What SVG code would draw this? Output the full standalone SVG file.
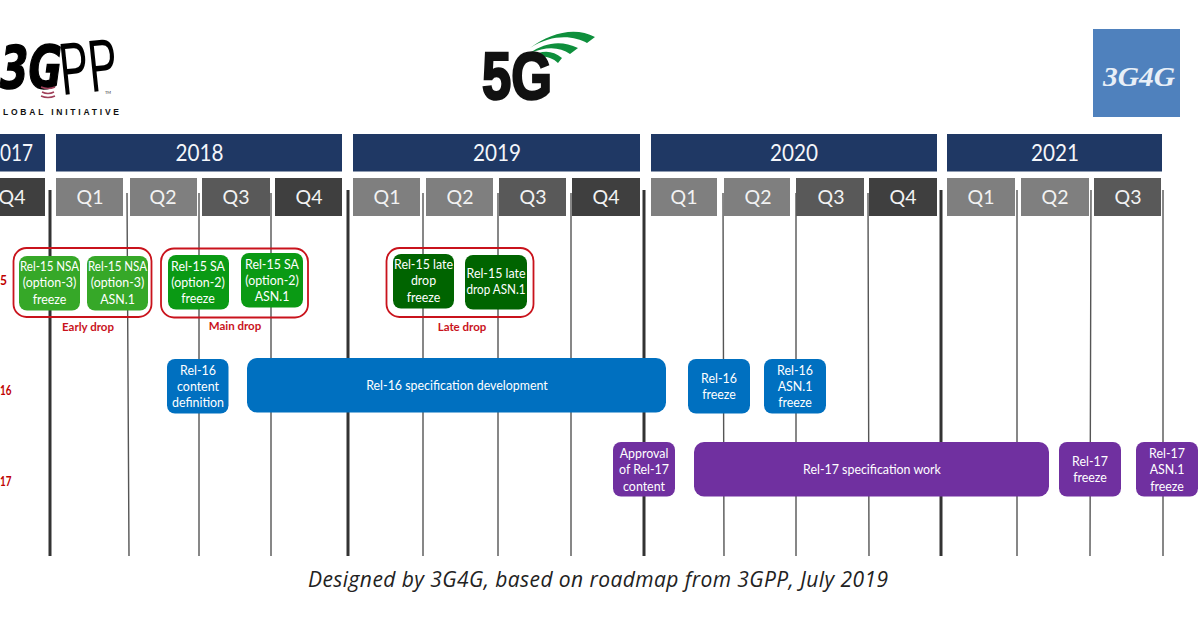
<svg xmlns="http://www.w3.org/2000/svg" width="1200" height="630" viewBox="0 0 1200 630">
<style>
text{font-family:Lato,"Open Sans","Liberation Sans",sans-serif;text-anchor:middle;fill:#fff}
.year{fill:#1f3864}
.yt{font-size:23px;fill:#f4f6fa}
.qt{font-size:19.5px;fill:#f2f2f2}
.q1,.q2{fill:#7f7f7f}.q3{fill:#595959}.q4{fill:#3f3f3f}
.n{font-size:12.4px}
.frame{fill:none;stroke:#c9131c;stroke-width:1.8}
.dl{font-size:11.5px;font-weight:700;fill:#c9131c}
.rl{font-size:14px;font-weight:700;fill:#c00000;text-anchor:start}
.g1{fill:#36a828}.g2{fill:#0a9a14}.g3{fill:#006400}.b{fill:#0070c0}.p{fill:#7030a0}
.arc{fill:#0e8f3c}
.thick{stroke:#333;stroke-width:3}
.thin{stroke:#555;stroke-width:1.4}
</style>

<g id="logo-3gpp">
<text x="31" y="88" style="font-family:'DejaVu Sans',sans-serif;font-size:58px;font-weight:700;font-style:italic;fill:#000;stroke:#000;stroke-width:1.5" textLength="62" lengthAdjust="spacingAndGlyphs">3G</text>
<text x="91" y="92" transform="rotate(-6 91 92)" style="font-family:'Liberation Sans',sans-serif;font-size:74px;fill:#000" textLength="58" lengthAdjust="spacingAndGlyphs">PP</text>
<path d="M41 87q7 3 14 0M42 92q6 3 12 0M41 96q7 3 14 0" fill="none" stroke="#a0405a" stroke-width="1.4"/>
<text x="108" y="94" style="font-size:4px;fill:#333">TM</text>
<text x="61" y="115" style="font-family:'Liberation Sans',sans-serif;font-size:8.5px;font-weight:700;fill:#111" textLength="116">LOBAL INITIATIVE</text>
</g>

<g id="logo-5g">
<path class="arc" d="M530 48C550 33 575 26 595 37L587 43C575 36 553 33 530 48Z"/>
<path class="arc" d="M530 53C545 42 562 40 578 48L570 54C560 47 547 46 530 53Z"/>
<path class="arc" d="M530 57C542 50 552 50 562 58L558 63C552 57 543 55 530 57Z"/>
<text x="517" y="99" style="font-family:'Liberation Sans',sans-serif;font-size:66px;font-weight:700;fill:#111;stroke:#111;stroke-width:2.500" textLength="70" lengthAdjust="spacingAndGlyphs">5G</text>
</g>

<g id="logo-3g4g">
<rect x="1093" y="29" width="87" height="88" fill="#4f81bd"/>
<text x="1139" y="86" style="font-family:'Liberation Serif',serif;font-size:27px;font-style:italic;font-weight:700;fill:#e8eff7" textLength="72" lengthAdjust="spacingAndGlyphs">3G4G</text>
</g>

<g id="connectors">
<path class="thick" d="M50 190V556M348 190V556M644 190V556M941 190V556"/>
<path class="thin" d="M127 193L129 556M199 193V556M271 193V556M423 193V556M498 193V556M571 193V556M723 193L724 556M796 193V556M868 193L869 556M1017 190V556M1091 190L1090 556M1163 190V556"/>
</g>

<g id="years">
<rect class="year" x="0" y="134" width="45" height="37.500"/><text class="yt" x="16.500" y="161" textLength="33" lengthAdjust="spacingAndGlyphs">017</text>
<rect class="year" x="56" y="134" width="286" height="37.500"/><text class="yt" x="199.500" y="161" textLength="48" lengthAdjust="spacingAndGlyphs">2018</text>
<rect class="year" x="353" y="134" width="287" height="37.500"/><text class="yt" x="497" y="161" textLength="48" lengthAdjust="spacingAndGlyphs">2019</text>
<rect class="year" x="651" y="134" width="286" height="37.500"/><text class="yt" x="794" y="161" textLength="48" lengthAdjust="spacingAndGlyphs">2020</text>
<rect class="year" x="947" y="134" width="215" height="37.500"/><text class="yt" x="1055" y="161" textLength="48" lengthAdjust="spacingAndGlyphs">2021</text>
</g>

<g id="quarters">
<rect class="q4" x="0" y="178" width="45" height="38"/><text class="qt" x="12" y="204">Q4</text>
<rect class="q1" x="56" y="178" width="67" height="38"/><text class="qt" x="90" y="204">Q1</text>
<rect class="q2" x="130" y="178" width="67" height="38"/><text class="qt" x="163" y="204">Q2</text>
<rect class="q3" x="202" y="178" width="68" height="38"/><text class="qt" x="236" y="204">Q3</text>
<rect class="q4" x="275" y="178" width="67" height="38"/><text class="qt" x="309" y="204">Q4</text>
<rect class="q1" x="353" y="178" width="67" height="38"/><text class="qt" x="387" y="204">Q1</text>
<rect class="q2" x="426" y="178" width="67" height="38"/><text class="qt" x="460" y="204">Q2</text>
<rect class="q3" x="499" y="178" width="67" height="38"/><text class="qt" x="533" y="204">Q3</text>
<rect class="q4" x="572" y="178" width="68" height="38"/><text class="qt" x="606" y="204">Q4</text>
<rect class="q1" x="651" y="178" width="66" height="38"/><text class="qt" x="684" y="204">Q1</text>
<rect class="q2" x="724" y="178" width="66" height="38"/><text class="qt" x="758" y="204">Q2</text>
<rect class="q3" x="796" y="178" width="68" height="38"/><text class="qt" x="831" y="204">Q3</text>
<rect class="q4" x="869" y="178" width="68" height="38"/><text class="qt" x="903" y="204">Q4</text>
<rect class="q1" x="947" y="178" width="68" height="38"/><text class="qt" x="981" y="204">Q1</text>
<rect class="q2" x="1021" y="178" width="68" height="38"/><text class="qt" x="1055" y="204">Q2</text>
<rect class="q3" x="1094" y="178" width="67" height="38"/><text class="qt" x="1128" y="204">Q3</text>
</g>

<g id="release-labels">
<text class="rl" x="0" y="285" textLength="7" lengthAdjust="spacingAndGlyphs">5</text>
<text class="rl" x="0" y="395" textLength="11.500" lengthAdjust="spacingAndGlyphs">16</text>
<text class="rl" x="0" y="486" textLength="11.500" lengthAdjust="spacingAndGlyphs">17</text>
</g>

<g id="drop-early"><rect class="frame" x="13.500" y="248" width="138" height="69" rx="13"/><text class="dl" x="88" y="331">Early drop</text></g>
<g id="drop-main"><rect class="frame" x="161" y="248.500" width="147" height="69" rx="13"/><text class="dl" x="235" y="330">Main drop</text></g>
<g id="drop-late"><rect class="frame" x="386.500" y="248" width="147" height="69" rx="13"/><text class="dl" x="462" y="331">Late drop</text></g>

<g id="r15-nsa-freeze"><rect class="g1" x="19" y="256" width="61" height="54.500" rx="8"/><text class="n" x="49.500" y="271" textLength="59" lengthAdjust="spacingAndGlyphs">Rel-15 NSA</text><text class="n" x="49.500" y="287">(option-3)</text><text class="n" x="49.500" y="304">freeze</text></g>
<g id="r15-nsa-asn1"><rect class="g1" x="87" y="256" width="61" height="54.500" rx="8"/><text class="n" x="117.500" y="271" textLength="59" lengthAdjust="spacingAndGlyphs">Rel-15 NSA</text><text class="n" x="117.500" y="287">(option-3)</text><text class="n" x="117.500" y="304">ASN.1</text></g>
<g id="r15-sa-freeze"><rect class="g2" x="168" y="255" width="61" height="54.500" rx="8"/><text class="n" x="198" y="271">Rel-15 SA</text><text class="n" x="198" y="287">(option-2)</text><text class="n" x="198" y="303">freeze</text></g>
<g id="r15-sa-asn1"><rect class="g2" x="241" y="253" width="62" height="54.500" rx="8"/><text class="n" x="272" y="269">Rel-15 SA</text><text class="n" x="272" y="285">(option-2)</text><text class="n" x="272" y="301">ASN.1</text></g>
<g id="r15-late-freeze"><rect class="g3" x="393" y="254" width="61" height="54.500" rx="8"/><text class="n" x="423.500" y="269">Rel-15 late</text><text class="n" x="423.500" y="285">drop</text><text class="n" x="423.500" y="302">freeze</text></g>
<g id="r15-late-asn1"><rect class="g3" x="465" y="255" width="62" height="54.500" rx="8"/><text class="n" x="496" y="278">Rel-15 late</text><text class="n" x="496" y="294" textLength="59" lengthAdjust="spacingAndGlyphs">drop ASN.1</text></g>

<g id="r16-content"><rect class="b" x="167" y="359" width="61.500" height="54.500" rx="8"/><text class="n" x="198" y="375">Rel-16</text><text class="n" x="198" y="391">content</text><text class="n" x="198" y="407">definition</text></g>
<g id="r16-spec"><rect class="b" x="247" y="358" width="419" height="54.500" rx="10"/><text class="n" x="457" y="390">Rel-16 specification development</text></g>
<g id="r16-freeze"><rect class="b" x="688" y="359" width="62" height="54.500" rx="8"/><text class="n" x="719" y="383">Rel-16</text><text class="n" x="719" y="399">freeze</text></g>
<g id="r16-asn1"><rect class="b" x="764" y="359" width="62" height="54.500" rx="8"/><text class="n" x="795" y="375">Rel-16</text><text class="n" x="795" y="391">ASN.1</text><text class="n" x="795" y="407">freeze</text></g>

<g id="r17-approval"><rect class="p" x="613" y="442" width="62" height="54.500" rx="8"/><text class="n" x="644" y="458">Approval</text><text class="n" x="644" y="474">of Rel-17</text><text class="n" x="644" y="491">content</text></g>
<g id="r17-spec"><rect class="p" x="694" y="442" width="355" height="54.500" rx="10"/><text class="n" x="872" y="474">Rel-17 specification work</text></g>
<g id="r17-freeze"><rect class="p" x="1059" y="442" width="62" height="54.500" rx="8"/><text class="n" x="1090" y="466">Rel-17</text><text class="n" x="1090" y="482">freeze</text></g>
<g id="r17-asn1"><rect class="p" x="1136" y="442" width="62" height="54.500" rx="8"/><text class="n" x="1167" y="458">Rel-17</text><text class="n" x="1167" y="474">ASN.1</text><text class="n" x="1167" y="491">freeze</text></g>

<text id="credit" x="598" y="587" style="font-family:'Open Sans',sans-serif;font-size:21px;font-style:italic;fill:#222" textLength="580">Designed by 3G4G, based on roadmap from 3GPP, July 2019</text>
</svg>
